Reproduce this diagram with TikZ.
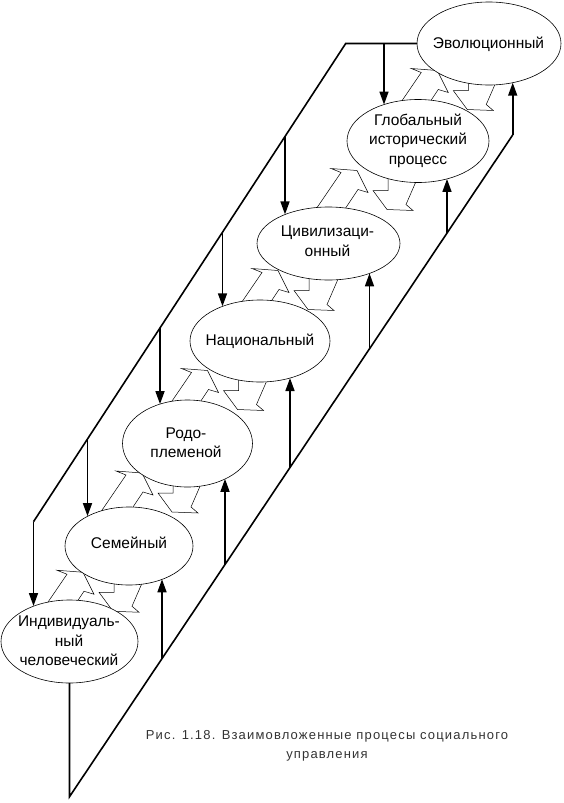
\documentclass[tikz,border=0pt]{standalone}
\usepackage{fontspec}
\setmainfont{Liberation Sans}
\usetikzlibrary{arrows.meta,shapes.geometric}
\newcommand\boltpair[2]{%
 \begin{scope}[shift={(#1,#2)}]
  \filldraw[bolt] (116,471) -- (142,473) -- (153,495) -- (143,492) -- (127,516) -- (98,516) -- (126,475) -- cycle;
  \filldraw[bolt] (198,513) -- (172,512) -- (158,493) -- (173,493) -- (173,478) -- (203.6,478) -- (191,507) -- cycle;
 \end{scope}}
\begin{document}
\begin{tikzpicture}[x=1pt,y=-1pt,
 bolt/.style={draw=black, fill=white, line width=0.5pt, line join=miter},
 lvl/.style={ellipse, draw, fill=white, line width=0.6pt, inner sep=0pt, outer sep=0pt},
 lbl/.style={align=center, font=\fontsize{15.5}{19.5}\selectfont, inner sep=0pt},
 frame/.style={line width=1.6pt, line join=miter},
 arr/.style={frame, -{Triangle[length=13pt,width=9pt]}}]
\useasboundingbox (0,0) rectangle (563,803);

\boltpair{-59}{99.25}
\boltpair{0}{0}
\boltpair{65.5}{-102.5}
\boltpair{136}{-202.5}
\boltpair{215}{-302.5}
\boltpair{295.25}{-402.5}

\node[lvl, minimum width=144pt, minimum height=83pt] (e7) at (489,43.5) {};
\node[lvl, minimum width=142pt, minimum height=83pt] (e6) at (418,141) {};
\node[lvl, minimum width=143pt, minimum height=73pt] (e5) at (328.5,243.5) {};
\node[lvl, minimum width=140pt, minimum height=82pt] (e4) at (260,341) {};
\node[lvl, minimum width=130pt, minimum height=87pt] (e3) at (187.5,443.5) {};
\node[lvl, minimum width=128pt, minimum height=78pt] (e2) at (129,546) {};
\node[lvl, minimum width=137pt, minimum height=83pt] (e1) at (69.5,641.5) {};

\node[lbl] (t7) at (488.5,44) {Эволюционный};
\node[lbl] (t6) at (418,140.5) {Глобальный\\исторический\\процесс};
\node[lbl] (t5) at (327.5,241) {Цивилизаци-\\онный};
\node[lbl] (t4) at (260,341) {Национальный};
\node[lbl] (t3) at (186,442.5) {Родо-\\племеной};
\node[lbl] (t2) at (129,543) {Семейный};
\node[lbl] (t1) at (69,641) {Индивидуаль-\\ный\\человеческий};

\coordinate (tl) at (345.7,43.5);
\coordinate (lb) at (33.5,521.7);
\coordinate (br) at (69.5,796.7);
\coordinate (rt) at (512.7,135);
\coordinate (d6) at (384,43.5);
\coordinate (d5) at (285,136.5);
\coordinate (d4) at (222.5,232.2);
\coordinate (d3) at (160,327.9);
\coordinate (d2) at (87.5,439.0);
\coordinate (u6) at (447,233.1);
\coordinate (u5) at (369.5,348.8);
\coordinate (u4) at (290,467.5);
\coordinate (u3) at (225,564.5);
\coordinate (u2) at (162,658.6);

\draw[frame] (e7.west) -- (tl) -- (lb);
\draw[arr] (lb) -- (lb |- e1.135);
\draw[frame] (e1.south) -- (br) -- (rt);
\draw[arr] (rt) -- (rt |- e7.301);

\draw[arr] (d6) -- (d6 |- e6.133);
\draw[arr] (d5) -- (d5 |- e5.146);
\draw[arr] (d4) -- (d4 |- e4.137);
\draw[arr] (d3) -- (d3 |- e3.125);
\draw[arr] (d2) -- (d2 |- e2.144);

\draw[arr] (u6) -- (u6 |- e6.307);
\draw[arr] (u5) -- (u5 |- e5.324);
\draw[arr] (u4) -- (u4 |- e4.309);
\draw[arr] (u3) -- (u3 |- e3.317);
\draw[arr] (u2) -- (u2 |- e2.315);

\node[align=center, font=\fontsize{13}{19}\selectfont\addfontfeature{LetterSpace=9}, text=black!80, inner sep=0pt] (cap) at (327,746) {Рис. 1.18. Взаимовложенные процесы социального\\управления};
\end{tikzpicture}
\end{document}
